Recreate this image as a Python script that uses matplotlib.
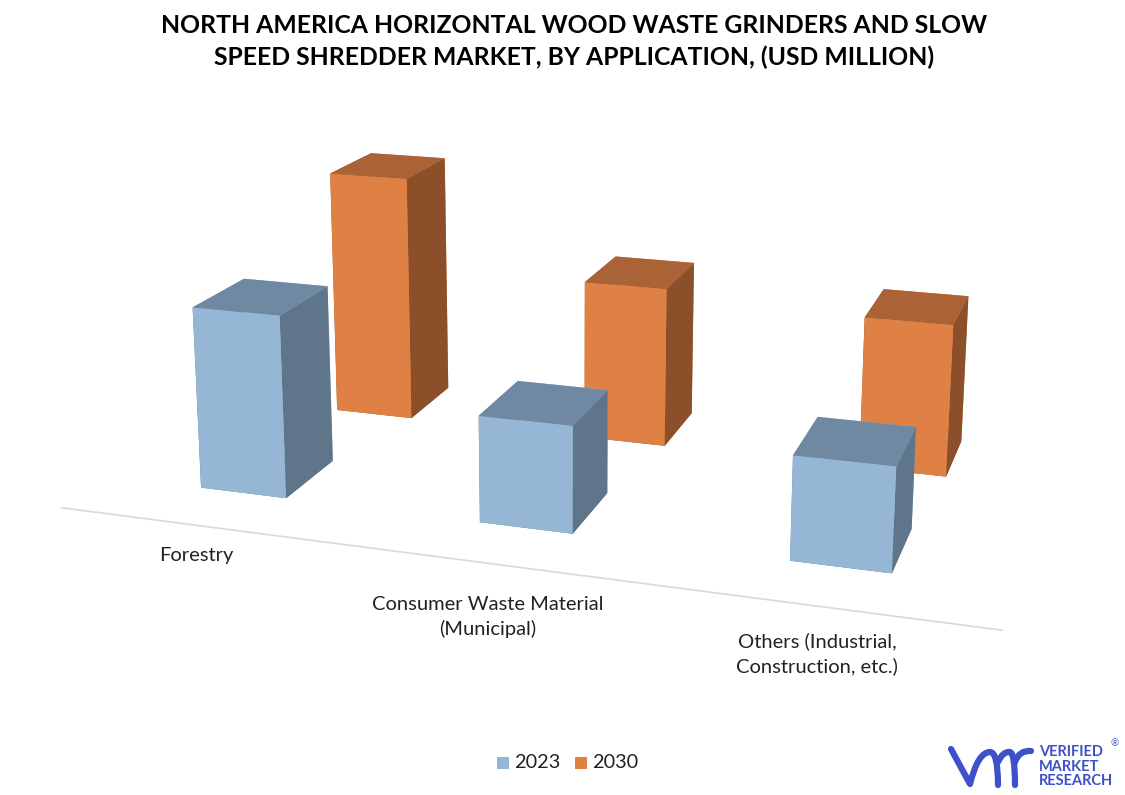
import matplotlib
matplotlib.use("Agg")
import matplotlib.pyplot as plt
from matplotlib.patches import PathPatch, Rectangle
from matplotlib.path import Path
import numpy as np

plt.rcParams['font.family'] = ['Lato', 'DejaVu Sans']

title = "NORTH AMERICA HORIZONTAL WOOD WASTE GRINDERS AND SLOW\nSPEED SHREDDER MARKET, BY APPLICATION, (USD MILLION)"
categories = ["Forestry", "Consumer Waste Material\n(Municipal)", "Others (Industrial,\nConstruction, etc.)"]
years = ["2023", "2030"]
values_2023 = [178, 102, 97]
values_2030 = [255, 163, 152]

W, H = 1125, 795


def face_colors(front, top, side):
    # order in bar3d: bottom, top, front, back, left, right
    return [side, top, front, front, side, side] * 3


def fx(px):
    return px / W


def fy(py):
    return 1 - py / H


fig = plt.figure(figsize=(11.25, 7.95), dpi=100)
ax = fig.add_axes([-0.1053, -0.03, 1.2, 1.4], projection='3d', computed_zorder=False)
ax.set_proj_type('persp', focal_length=0.35)
ax.view_init(elev=14.5, azim=-72)
ax.set_box_aspect((3, 1.5, 1.6))
ax.set_axis_off()

xs = np.array([-0.15, 0.995, 2.16])
width = 0.36
depth = 0.49

# the back row sits a bit to the right of the front one
back_shift = np.array([0.12, 0.085, 0.06])

# back row first so the front bars cover it
ax.bar3d(xs - width / 2 + back_shift, np.full(3, 0.95), np.zeros(3), width * 0.95, depth, values_2030,
         color=face_colors("#df8045", "#a96337", "#8b4f2a"), shade=False, zorder=1)
ax.bar3d(xs - width / 2, np.full(3, -0.2), np.zeros(3), width, depth, values_2023,
         color=face_colors("#95b6d4", "#7089a3", "#5f7589"), shade=False, zorder=2)

ax.plot([-0.73, 2.76], [-0.6, -0.6], [0, 0], color="#d9d9d9", lw=1.2, zorder=0)

ax.set_xlim(-0.75, 2.75)
ax.set_ylim(-0.6, 1.4)
ax.set_zlim(0, 460)

fig.text(fx(574), fy(41.5), title, ha='center', va='center', fontsize=17.8, fontweight='bold',
         color='black', linespacing=1.45)

label_pos = [(196, 556), (488, 617), (817, 654)]
for name, (px, py) in zip(categories, label_pos):
    fig.text(fx(px), fy(py), name, ha='center', va='center', fontsize=14.5, color='#222222', linespacing=1.5)

for year, col, sq, tx in zip(years, ["#95b6d4", "#df8045"], [503, 581], [514, 592]):
    fig.add_artist(Rectangle((fx(sq - 6), fy(769)), 12 / W, 12 / H, transform=fig.transFigure, color=col, lw=0))
    fig.text(fx(tx), fy(763), year, ha='left', va='center', fontsize=14.3, color='#222222')

# logo
logo_blue = "#3f51c8"
M, L, Q = Path.MOVETO, Path.LINETO, Path.CURVE3
logo_pts = [(951, 749), (970, 784), (978, 752), (990, 752), (998, 752), (998, 785),
            (998, 762), (1003, 751), (1010, 752), (1015, 753), (1015, 785),
            (1015, 762), (1019, 750), (1031, 751)]
logo_codes = [M, L, Q, Q, Q, Q, M, Q, Q, Q, Q, M, Q, Q]
logo_path = Path([(fx(a), fy(b)) for a, b in logo_pts], logo_codes)
fig.add_artist(PathPatch(logo_path, transform=fig.transFigure, fc='none', ec=logo_blue, lw=4.5,
                         capstyle='round', joinstyle='round'))
for word, py in zip(["VERIFIED", "MARKET", "RESEARCH"], [752, 767, 781]):
    fig.text(fx(1039), fy(py), word, ha='left', va='center', fontsize=10.5, color=logo_blue, fontweight='bold')
fig.text(fx(1115), fy(744), "®", ha='center', va='center', fontsize=7, color=logo_blue)

fig.savefig("out.png", dpi=100)
